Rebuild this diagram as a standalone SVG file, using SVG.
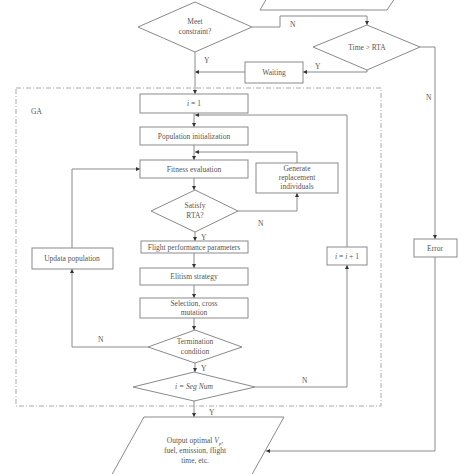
<svg xmlns="http://www.w3.org/2000/svg" width="474" height="474" viewBox="0 0 474 474">
<defs>
<marker id="ah" viewBox="0 0 6 6" refX="6" refY="3" markerWidth="4" markerHeight="4" orient="auto" markerUnits="userSpaceOnUse">
<path d="M0,0 L6,3 L0,6 z" fill="#333"/>
</marker>
<style>
.s{fill:#fff;stroke:#8a8a8a;stroke-width:1}
.c{fill:none;stroke:#8a8a8a;stroke-width:1}
.t{font-family:"Liberation Serif",serif;font-size:7.5px;fill:#555;text-anchor:middle}
.l{font-family:"Liberation Serif",serif;font-size:7.5px;fill:#555}
</style>
</defs>
<rect width="474" height="474" fill="#fff"/>
<rect x="16" y="88" width="365" height="318" fill="none" stroke="#aaa" stroke-width="1" stroke-dasharray="5,2,1,2"/>
<text class="l" x="31" y="114" font-size="8">GA</text>
<g id="connectors">
<path class="c" d="M252,27 H280 V16 H367 V25" marker-end="url(#ah)"/>
<path class="c" d="M367,70 V72 H303" marker-end="url(#ah)"/>
<path class="c" d="M245,72 H195" marker-end="url(#ah)"/>
<path class="c" d="M195,52 V94" marker-end="url(#ah)"/>
<path class="c" d="M420,47 H435 V239" marker-end="url(#ah)"/>
<path class="c" d="M435,257 V451 H266" marker-end="url(#ah)"/>
<path class="c" d="M194,113 V127" marker-end="url(#ah)"/>
<path class="c" d="M347,247 V115 H195" marker-end="url(#ah)"/>
<path class="c" d="M194,145 V160" marker-end="url(#ah)"/>
<path class="c" d="M297,163 V152 H195" marker-end="url(#ah)"/>
<path class="c" d="M194,178 V190" marker-end="url(#ah)"/>
<path class="c" d="M238,211 H297 V193" marker-end="url(#ah)"/>
<path class="c" d="M195,232 V241" marker-end="url(#ah)"/>
<path class="c" d="M194,253 V268" marker-end="url(#ah)"/>
<path class="c" d="M194,285 V298" marker-end="url(#ah)"/>
<path class="c" d="M194,318 V330" marker-end="url(#ah)"/>
<path class="c" d="M148,347 H72 V269" marker-end="url(#ah)"/>
<path class="c" d="M72,248 V169 H140" marker-end="url(#ah)"/>
<path class="c" d="M195,363 V372" marker-end="url(#ah)"/>
<path class="c" d="M255,387 H347 V265" marker-end="url(#ah)"/>
<path class="c" d="M194,401 V417" marker-end="url(#ah)"/>
</g>
<g id="labels">
<text class="l" x="290" y="27">N</text>
<text class="l" x="315" y="69">Y</text>
<text class="l" x="204" y="63">Y</text>
<text class="l" x="426" y="100">N</text>
<text class="l" x="258" y="226">N</text>
<text class="l" x="201" y="240">Y</text>
<text class="l" x="98" y="342">N</text>
<text class="l" x="201" y="371">Y</text>
<text class="l" x="302" y="383">N</text>
<text class="l" x="209" y="415">Y</text>
</g>
<g id="input">
<path class="s" d="M267,-2 L395,-2 L387,10 L260,10 z"/>
</g>
<g id="meet">
<path class="s" d="M195,2 L252,27 L195,52 L138,27 z"/>
<text class="t" x="195" y="24">Meet</text>
<text class="t" x="195" y="34">constraint?</text>
</g>
<g id="time">
<path class="s" d="M367,25 L420,47 L367,70 L313,47 z"/>
<text class="t" x="367" y="50">Time &gt; RTA</text>
</g>
<g id="waiting">
<rect class="s" x="245" y="62" width="58" height="21"/>
<text class="t" x="274" y="75">Waiting</text>
</g>
<g id="i1">
<rect class="s" x="140" y="94" width="108" height="19"/>
<text class="t" x="194" y="106"><tspan font-style="italic">i</tspan> = 1</text>
</g>
<g id="popinit">
<rect class="s" x="140" y="127" width="108" height="18"/>
<text class="t" x="194" y="139">Population initialization</text>
</g>
<g id="fitness">
<rect class="s" x="140" y="160" width="108" height="18"/>
<text class="t" x="194" y="172">Fitness evaluation</text>
</g>
<g id="generate">
<rect class="s" x="256" y="163" width="82" height="30"/>
<text class="t" x="297" y="171">Generate</text>
<text class="t" x="297" y="180">replacement</text>
<text class="t" x="297" y="189">individuals</text>
</g>
<g id="satisfy">
<path class="s" d="M195,190 L238,211 L195,232 L151,211 z"/>
<text class="t" x="195" y="208">Satisfy</text>
<text class="t" x="195" y="218">RTA?</text>
</g>
<g id="flight">
<rect class="s" x="141" y="241" width="107" height="12"/>
<text class="t" x="194" y="250">Flight performance parameters</text>
</g>
<g id="elitism">
<rect class="s" x="140" y="268" width="108" height="17"/>
<text class="t" x="194" y="279">Elitism strategy</text>
</g>
<g id="selection">
<rect class="s" x="140" y="298" width="108" height="20"/>
<text class="t" x="194" y="306">Selection, cross</text>
<text class="t" x="194" y="315">mutation</text>
</g>
<g id="termination">
<path class="s" d="M195,330 L242,347 L195,363 L148,347 z"/>
<text class="t" x="195" y="344">Termination</text>
<text class="t" x="195" y="354">condition</text>
</g>
<g id="segnum">
<path class="s" d="M194,372 L255,387 L194,401 L133,387 z"/>
<text class="t" x="194" y="389" font-style="italic">i = Seg Num</text>
</g>
<g id="iplus">
<rect class="s" x="327" y="247" width="40" height="18"/>
<text class="t" x="347" y="259"><tspan font-style="italic">i</tspan> = <tspan font-style="italic">i</tspan> + 1</text>
</g>
<g id="updata">
<rect class="s" x="32" y="248" width="81" height="21"/>
<text class="t" x="72" y="261">Updata population</text>
</g>
<g id="error">
<rect class="s" x="414" y="239" width="43" height="18"/>
<text class="t" x="435" y="251">Error</text>
</g>
<g id="output">
<path class="s" d="M144,417 L284,417 L250,478 L110,478 z"/>
<text class="t" x="195" y="443">Output optimal <tspan font-style="italic">V</tspan><tspan font-size="5" dy="2">p</tspan><tspan dy="-2">,</tspan></text>
<text class="t" x="195" y="453">fuel, emission, flight</text>
<text class="t" x="195" y="463">time, etc.</text>
</g>
</svg>
